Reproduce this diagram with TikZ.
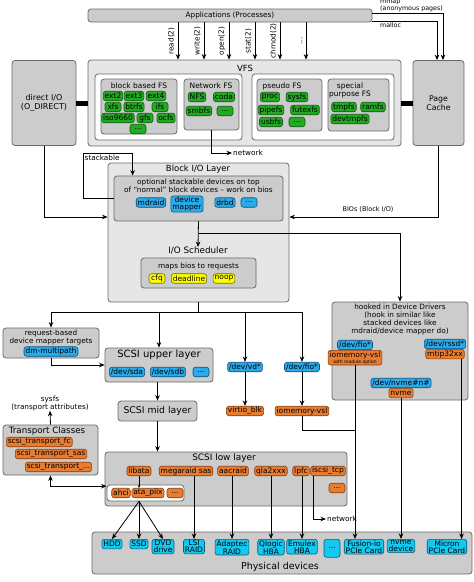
\documentclass[tikz,border=0pt]{standalone}
\usepackage{fontspec}
\setmainfont{DejaVu Sans}
\usetikzlibrary{arrows,arrows.meta,calc,positioning}
\definecolor{boxgray}{RGB}{204,204,204}
\definecolor{outgray}{RGB}{230,230,230}
\definecolor{edgegray}{RGB}{105,105,105}
\definecolor{fsgreen}{RGB}{34,170,34}
\definecolor{fsline}{RGB}{20,90,20}
\definecolor{devblue}{RGB}{42,170,232}
\definecolor{devline}{RGB}{10,80,130}
\definecolor{drvorange}{RGB}{232,125,50}
\definecolor{drvline}{RGB}{140,60,10}
\definecolor{ioyellow}{RGB}{255,255,0}
\definecolor{ioline}{RGB}{110,110,0}
\definecolor{hwcyan}{RGB}{20,200,240}
\definecolor{hwline}{RGB}{10,90,120}
\tikzset{
  layerbox/.style={draw=edgegray, fill=boxgray, rounded corners=3pt, line width=0.8pt, inner sep=0pt},
  outerbox/.style={layerbox, fill=outgray},
  whitebox/.style={layerbox, fill=white},
  item/.style={rounded corners=2.5pt, line width=0.6pt, inner xsep=1.5pt, inner ysep=1pt, minimum height=9.5pt, minimum width=16pt, align=center, font=\fontsize{7.5}{7}\selectfont},
  fs/.style={item, draw=fsline, fill=fsgreen},
  dev/.style={item, draw=devline, fill=devblue},
  drv/.style={item, draw=drvline, fill=drvorange},
  sched/.style={item, draw=ioline, fill=ioyellow},
  hw/.style={item, draw=hwline, fill=hwcyan, anchor=north},
  boxtitle/.style={inner sep=0pt, font=\fontsize{8.5}{10}\selectfont},
  fstitle/.style={inner sep=0pt, align=center, font=\fontsize{7.5}{8}\selectfont},
  conn/.style={->, line width=0.8pt}
}
\begin{document}
\begin{tikzpicture}[x=1pt, y=-1pt, >={Stealth[length=5.5pt,width=4.5pt]}, font=\fontsize{7.3}{8}\selectfont]
  \useasboundingbox (0,0) rectangle (474,582);
  % Nodes
  \node[layerbox, minimum width=284, minimum height=13] (App) at (230,15.5) {Applications (Processes)};
  \node[rotate=90, anchor=south] (Lread) at (178,41) {read(2)};
  \node[rotate=90, anchor=south] (Lwrite) at (204,41) {write(2)};
  \node[rotate=90, anchor=south] (Lopen) at (229,41) {open(2)};
  \node[rotate=90, anchor=south] (Lstat) at (255,41) {stat(2)};
  \node[rotate=90, anchor=south] (Lchmod) at (280,41) {chmod(2)};
  \node[rotate=90, anchor=south] (Lmore) at (306,41) {...};
  \node[anchor=south west, align=left, inner sep=0pt, font=\fontsize{6.3}{7}\selectfont] (Lmmap) at (380,12) {mmap\\(anonymous pages)};
  \node[anchor=north west, inner sep=0pt, font=\fontsize{6.3}{7}\selectfont] (Lmalloc) at (380,22.5) {malloc};
  \coordinate (mm) at (443,13);
  \coordinate (ma) at (437,21);

  \node[outerbox, minimum width=313, minimum height=86] (VFS) at (244.5,103) {};
  \node[boxtitle] (VFSt) at (245,68) {VFS};
  \node[whitebox, minimum width=147, minimum height=66] (VFSl) at (168.5,107) {};
  \node[whitebox, minimum width=142, minimum height=66] (VFSr) at (323,107) {};
  \node[layerbox, minimum width=76, minimum height=55] (BFS) at (139,106.5) {};
  \node[fstitle] (BFSt) at (139,86) {block based FS};
  \node[fs] (ext2) at (113,96) {ext2};
  \node[fs] (ext3) at (134,96) {ext3};
  \node[fs] (ext4) at (156,96) {ext4};
  \node[fs] (xfs) at (113,107) {xfs};
  \node[fs] (btrfs) at (134,107) {btrfs};
  \node[fs] (ifs) at (160,107) {ifs};
  \node[fs] (iso) at (118,118) {iso9660};
  \node[fs] (gfs) at (145,118) {gfs};
  \node[fs] (ocfs) at (166,118) {ocfs};
  \node[fs] (BFSd) at (138,129) {...};
  \node[layerbox, minimum width=55, minimum height=51] (NetFS) at (211.5,104.5) {};
  \node[fstitle] (NetFSt) at (211,86) {Network FS};
  \node[fs] (nfs) at (197,97) {NFS};
  \node[fs] (coda) at (224,97) {coda};
  \node[fs] (smbfs) at (199,111) {smbfs};
  \node[fs] (NetFSd) at (225,111) {...};
  \node[layerbox, minimum width=65, minimum height=52] (PFS) at (289.5,105) {};
  \node[fstitle] (PFSt) at (282,86) {pseudo FS};
  \node[fs] (proc) at (270,97) {proc};
  \node[fs] (sysfs) at (297,97) {sysfs};
  \node[fs] (pipefs) at (271,110) {pipefs};
  \node[fs] (futexfs) at (305,110) {futexfs};
  \node[fs] (usbfs) at (271,122) {usbfs};
  \node[fs] (PFSd) at (297,122) {...};
  \node[layerbox, minimum width=61, minimum height=52] (SFS) at (358.5,105) {};
  \node[fstitle] (SFSt) at (350,90) {special\\purpose FS};
  \node[fs] (tmpfs) at (344,107) {tmpfs};
  \node[fs] (ramfs) at (373,107) {ramfs};
  \node[fs] (devtmpfs) at (350,119) {devtmpfs};
  \node[anchor=west, inner sep=1pt] (Lnet) at (232,153) {network};

  \node[layerbox, minimum width=64, minimum height=85, align=center, font=\fontsize{8}{9.5}\selectfont] (DIO) at (44,103) {direct I/O\\(O\_DIRECT)};
  \node[layerbox, minimum width=51, minimum height=85, align=center, font=\fontsize{7.8}{9}\selectfont] (PC) at (438.5,103) {Page\\Cache};

  \node[outerbox, minimum width=181, minimum height=139] (BIO) at (198.5,232.5) {};
  \node[boxtitle] (BIOt) at (198,169) {Block I/O Layer};
  \node[layerbox, minimum width=169, minimum height=45] (Stk) at (198.5,198.5) {};
  \node[align=center, inner sep=0pt] (Stkt) at (198.5,186) {optional stackable devices on top\\of ``normal'' block devices -- work on bios};
  \node[dev] (mdraid) at (151,202.5) {mdraid};
  \node[dev] (DM) at (187,204) {device\\mapper};
  \node[dev] (drbd) at (225,202.5) {drbd};
  \node[dev] (Stkd) at (249,202.5) {...};
  \node[anchor=north west, inner sep=0pt, font=\fontsize{7.3}{8}\selectfont] (Lstk) at (84.5,155) {stackable};
  \coordinate (stk) at (83,153);
  \node[boxtitle, font=\fontsize{8.8}{10}\selectfont] (Scht) at (198,251) {I/O Scheduler};
  \node[layerbox, minimum width=115, minimum height=30] (Sch) at (198.5,273) {};
  \node[inner sep=0pt] (Scht2) at (198.5,266) {maps bios to requests};
  \node[sched] (cfq) at (157,278.5) {cfq};
  \node[sched] (deadline) at (189,278.5) {deadline};
  \node[sched] (noop) at (224,278.5) {noop};
  \node[anchor=south, inner sep=0pt, font=\fontsize{6.5}{7}\selectfont] (Lbio) at (368,213) {BIOs (Block I/O)};
  \coordinate (bio) at (0,217);
  \coordinate (hk) at (0,233);
  \coordinate (so) at (0,312);

  \node[layerbox, minimum width=136, minimum height=98] (Hook) at (400,351) {};
  \node[align=center, inner sep=0pt] (Hookt) at (400,319) {hooked in Device Drivers\\(hook in similar like\\stacked devices like\\mdraid/device mapper do)};
  \node[dev] (fioh) at (355,345) {/dev/fio*};
  \node[drv, anchor=north] (iomemh) at (fioh.south) {iomemory-vsl\\[-1pt]{\fontsize{4.5}{5}\selectfont with module option}};
  \node[dev] (rssd) at (445,344) {/dev/rssd*};
  \node[drv, anchor=north] (mtip) at (rssd.south) {mtip32xx};
  \node[dev] (nvmed) at (401,383) {/dev/nvme\#n\#};
  \node[drv, anchor=north] (nvme) at (nvmed.south) {nvme};

  \node[dev] (vd) at (245,367) {/dev/vd*};
  \node[drv] (virtio) at (245,411) {virtio\_blk};
  \node[dev] (fio) at (302,367) {/dev/fio*};
  \node[drv] (iomem) at (302,411) {iomemory-vsl};
  \coordinate (fj) at (0,430);

  \node[layerbox, minimum width=96, minimum height=30] (RQ) at (51,343) {};
  \node[align=center, inner sep=0pt] (RQt) at (51,337) {request-based\\device mapper targets};
  \node[dev] (dmmp) at (51,351.5) {dm-multipath};

  \node[layerbox, minimum width=108, minimum height=34] (Up) at (159,365) {};
  \node[boxtitle, font=\fontsize{10}{11}\selectfont] (Upt) at (159,355) {SCSI upper layer};
  \node[dev] (sda) at (127,372) {/dev/sda};
  \node[dev] (sdb) at (168,372) {/dev/sdb};
  \node[dev] (Upd) at (201,372) {...};
  \node[layerbox, minimum width=79, minimum height=20, font=\fontsize{9.3}{10}\selectfont] (Mid) at (157.5,411) {SCSI mid layer};

  \node[layerbox, minimum width=242, minimum height=54] (Low) at (226,479) {};
  \node[boxtitle, font=\fontsize{8.9}{10}\selectfont] (Lowt) at (224,458) {SCSI low layer};
  \node[drv] (libata) at (139,471) {libata};
  \node[drv] (mega) at (186,471) {megaraid sas};
  \node[drv] (aacraid) at (233,471) {aacraid};
  \node[drv] (qla) at (271,471) {qla2xxx};
  \node[drv] (lpfc) at (301,471) {lpfc};
  \node[drv] (iscsi) at (328,471) {iscsi\_tcp};
  \node[drv] (Lowd) at (337,488) {...};
  \node[whitebox, minimum width=77, minimum height=16] (ATA) at (145.5,493) {};
  \node[drv] (ahci) at (121,493) {ahci};
  \node[drv] (piix) at (148,493) {ata\_piix};
  \node[drv] (ATAd) at (175,493) {...};
  \node[anchor=west, inner sep=1pt] (Lnet2) at (326,519) {network};

  \node[layerbox, minimum width=95, minimum height=50] (TC) at (50.5,450) {};
  \node[boxtitle, font=\fontsize{8.7}{10}\selectfont] (TCt) at (47,431) {Transport Classes};
  \node[drv, anchor=west] (tfc) at (6,442) {scsi\_transport\_fc};
  \node[drv, anchor=west] (tsas) at (15,454) {scsi\_transport\_sas};
  \node[drv, anchor=west] (tmore) at (25,467) {scsi\_transport\_...};
  \node[align=center, inner sep=0pt, font=\fontsize{7.3}{8}\selectfont] (Lsys) at (50,403) {sysfs\\(transport attributes)};

  \node[layerbox, minimum width=380, minimum height=42] (Phys) at (282,553) {};
  \node[inner sep=0pt, font=\fontsize{9.5}{10}\selectfont] (Physt) at (280,567) {Physical devices};
  \node[hw] (HDD) at (112,539) {HDD};
  \node[hw] (SSD) at (139,539) {SSD};
  \node[hw] (DVD) at (163,539) {DVD\\drive};
  \node[hw] (LSI) at (194,539) {LSI\\RAID};
  \node[hw] (Adaptec) at (232,539) {Adaptec\\RAID};
  \node[hw] (Qlogic) at (271,539) {Qlogic\\HBA};
  \node[hw] (Emulex) at (302,539) {Emulex\\HBA};
  \node[hw, minimum height=18pt] (Physd) at (332,539) {...};
  \node[hw] (Fusion) at (364,539) {Fusion-io\\PCIe Card};
  \node[hw] (NVMe) at (401,539) {nvme\\device};
  \node[hw] (Micron) at (447,539) {Micron\\PCIe Card};
  \coordinate (mt) at ($(mtip.south east)+(-3,0)$);

  % Edges
  \draw[conn] (App.south -| Lread.south) -- (VFS.north -| Lread.south);
  \draw[conn] (App.south -| Lwrite.south) -- (VFS.north -| Lwrite.south);
  \draw[conn] (App.south -| Lopen.south) -- (VFS.north -| Lopen.south);
  \draw[conn] (App.south -| Lstat.south) -- (VFS.north -| Lstat.south);
  \draw[conn] (App.south -| Lchmod.south) -- (VFS.north -| Lchmod.south);
  \draw[conn] (App.south -| Lmore.south) -- (VFS.north -| Lmore.south);
  \draw[conn] (App.east |- mm) -- (mm) -- (PC.north -| mm);
  \draw[conn] (App.east |- ma) -- (ma) -- (PC.north -| ma);
  \draw[line width=5pt] (DIO.east) -- (VFS.west);
  \draw[line width=5pt] (VFS.east) -- (PC.west);
  \draw[conn] (NetFS.south) |- (Lnet.west);
  \draw[conn] (DIO.south) |- (BIO.west |- bio);
  \draw[conn] (PC.south) |- (BIO.east |- bio);
  \draw[conn] (Stk.west) -| (stk) -| ($(Stk.north west)+(19,0)$);
  \draw[conn] (Stk.south) -- (Scht.north);
  \draw[conn] (Stk.south |- hk) -| (Hook.north);
  \draw[line width=0.8pt] (BIO.south) -- (BIO.south |- so);
  \draw[conn] (BIO.south |- so) -| (RQ.north);
  \draw[conn] (BIO.south |- so) -| (Up.north);
  \draw[conn] (BIO.south |- so) -| (vd.north);
  \draw[conn] (BIO.south |- so) -| (fio.north);
  \draw[conn] (vd) -- (virtio);
  \draw[conn] (fio) -- (iomem);
  \draw[conn] (RQ.south) |- (Up.west);
  \draw[conn] (Up.south -| Mid.north) -- (Mid.north);
  \draw[conn] (Mid.south) -- (Mid.south |- Low.north);
  \draw[conn] (TC.north) -- (Lsys.south);
  \draw[conn, <->] (TC.south) |- (ATA.170);
  \draw[->, line width=0.5pt, >={Stealth[length=3pt,width=2.5pt]}] (libata.south) -- (libata.south |- piix.north);
  \draw[conn] (ATA.south -| libata.south) -- (HDD.north);
  \draw[conn] (ATA.south -| libata.south) -- (SSD.north);
  \draw[conn] (ATA.south -| libata.south) -- (DVD.north);
  \draw[conn] (LSI.north |- mega.south) -- (LSI.north);
  \draw[conn] (Adaptec.north |- aacraid.south) -- (Adaptec.north);
  \draw[conn] (Qlogic.north |- qla.south) -- (Qlogic.north);
  \draw[conn] (Emulex.north |- lpfc.south) -- (Emulex.north);
  \draw[conn] ($(iscsi.south west)+(3,0)$) |- (Lnet2.west);
  \draw[line width=0.8pt] (iomem.south) |- (iomemh.south |- fj);
  \draw[conn] (iomemh.south) -- (iomemh.south |- Fusion.north);
  \draw[conn] (nvme.south) -- (nvme.south |- NVMe.north);
  \draw[conn] (mt) -- (mt |- Micron.north);
\end{tikzpicture}
\end{document}
